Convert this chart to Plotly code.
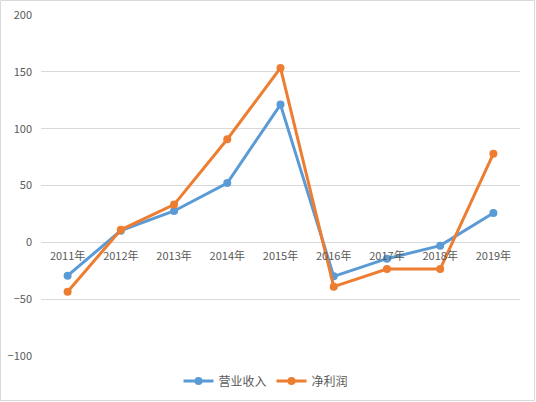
import plotly.graph_objects as go

years = ["2011年", "2012年", "2013年", "2014年", "2015年", "2016年", "2017年", "2018年", "2019年"]
revenue = [-29.3, 10.3, 27.6, 52.2, 121.2, -29.9, -14.4, -2.9, 25.8]
profit = [-43.4, 11.0, 33.2, 90.7, 153.4, -39.0, -23.5, -23.5, 78.0]

W, H = 536, 402
ml, mr, mt, mb = 41, 16, 15, 46
pw, ph = W - ml - mr, H - mt - mb

fig = go.Figure()
fig.add_trace(go.Scatter(x=years, y=revenue, name="营业收入", mode="lines+markers",
                         line=dict(color="#5B9BD5", width=3), marker=dict(size=8, color="#5B9BD5")))
fig.add_trace(go.Scatter(x=years, y=profit, name="净利润", mode="lines+markers",
                         line=dict(color="#ED7D31", width=3), marker=dict(size=8, color="#ED7D31")))

font = "Noto Sans CJK SC, Microsoft YaHei, sans-serif"
fig.update_layout(
    width=W, height=H,
    margin=dict(l=ml, r=mr, t=mt, b=mb, autoexpand=False),
    paper_bgcolor="white", plot_bgcolor="white",
    font=dict(family=font, size=11, color="#595959"),
    showlegend=True,
    legend=dict(orientation="h", x=(266 - ml) / pw, xanchor="center",
                y=-(381 - (mt + ph)) / ph, yanchor="middle",
                font=dict(size=12, color="#595959"), itemwidth=30,
                bgcolor="rgba(0,0,0,0)"),
    xaxis=dict(type="category", showgrid=False, showline=False, ticks="",
               anchor="free", position=1/3, range=[-0.5, 8.5],
               tickfont=dict(size=11, color="#595959"), ticklabelstandoff=6),
    yaxis=dict(range=[-100, 200], dtick=50, showgrid=True, gridcolor="#D9D9D9",
               gridwidth=1, zeroline=True, zerolinecolor="#D9D9D9", zerolinewidth=1,
               showline=False, ticks="", tickfont=dict(size=11, color="#595959"),
               ticklabelstandoff=8),
    shapes=[dict(type="rect", xref="paper", yref="paper",
                 x0=(0.5 - ml) / pw, x1=(534.5 - ml) / pw,
                 y0=-(400.5 - (mt + ph)) / ph,
                 y1=(ph + mt - 0.5) / ph,
                 line=dict(color="#D9D9D9", width=1), layer="below")],
)
fig.write_html("out.html")
